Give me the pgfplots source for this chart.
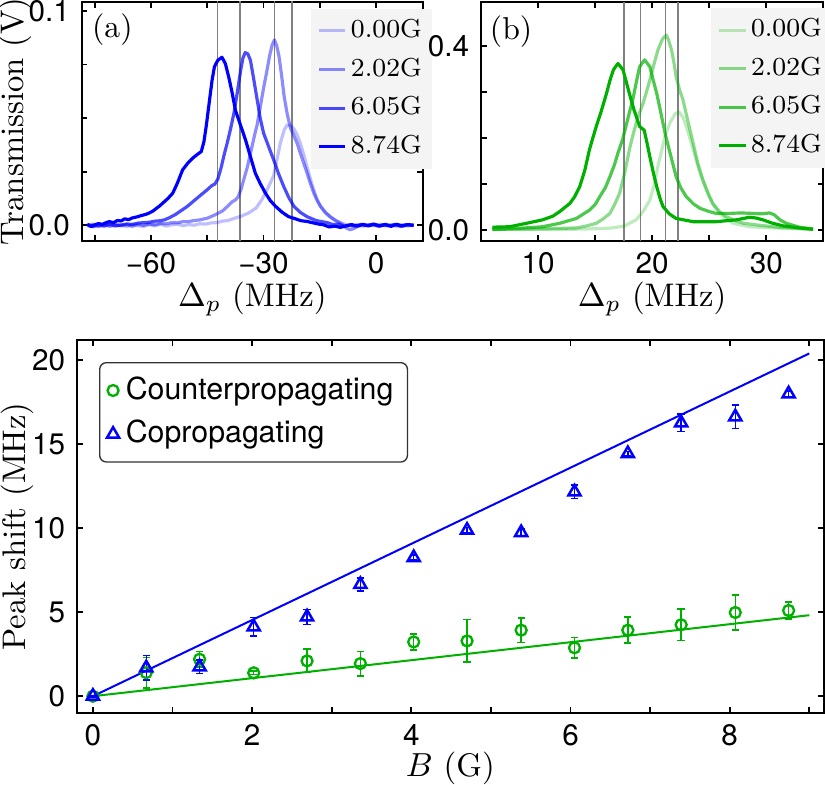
\documentclass[border=0pt]{standalone}
\usepackage{fontspec}
\usepackage{pgfplots}
\pgfplotsset{compat=1.18}
\newfontfamily\ticksf{TeX Gyre Heros}
\definecolor{mygreen}{rgb}{0,0.69,0}
\definecolor{legfill}{gray}{0.955}

\pgfplotsset{
  panel/.style={
    scale only axis,
    axis line style={line width=0.6pt},
    every tick/.style={black, line width=0.5pt},
    major tick length=1.7pt,
    tick align=inside,
    tick label style={font=\ticksf\fontsize{8.9}{10}\selectfont},
    label style={font=\fontsize{9.8}{11}\selectfont},
  },
  spec/.style={line width=0.95pt, line join=round},
  toplegend/.style={
    legend cell align=left,
    legend image code/.code={\draw[##1, line width=0.9pt] (0pt,0pt) -- (8pt,0pt);},
    legend style={anchor=north west, fill=legfill, draw=none,
      font=\fontsize{7.8}{8.5}\selectfont, inner sep=2pt, row sep=2.2pt,
      nodes={inner sep=1.2pt}},
  },
}

\begin{document}
\begin{tikzpicture}
\path[use as bounding box] (0pt,0pt) rectangle (247.5pt,-235.5pt);

% ---------------- (a) co-propagating spectra ----------------
\begin{axis}[panel, toplegend,
  at={(24.5pt,-0.6pt)}, anchor=north west,
  width=102.4pt, height=71.6pt,
  xmin=-78.5, xmax=12.5, ymin=-0.0072, ymax=0.1042,
  xtick={-75,-60,-45,-30,-15,0}, xticklabels={,−60,,−30,,0},
  ytick={0,0.025,0.05,0.075,0.1}, yticklabels={0.0,,,,0.1},
  xlabel={$\Delta_p$ (MHz)}, ylabel={Transmission (V)},
  xlabel style={at={(axis description cs:0.5,0)}, anchor=center, yshift=-17.5pt},
  ylabel style={at={(axis description cs:0,0.5)}, anchor=center, yshift=20pt},
  legend style={at={(0.669,0.975)}},
]
\addplot[gray, line width=0.35pt, forget plot] coordinates {(-42.3,-0.01) (-42.3,0.11)};
\addplot[gray, line width=0.35pt, forget plot] coordinates {(-36.3,-0.01) (-36.3,0.11)};
\addplot[gray, line width=0.35pt, forget plot] coordinates {(-27.1,-0.01) (-27.1,0.11)};
\addplot[gray, line width=0.35pt, forget plot] coordinates {(-22.4,-0.01) (-22.4,0.11)};

\addplot[spec, blue, draw opacity=0.25] coordinates {
(-77,0.0003) (-75.5,-0.0008) (-74,-0.0002) (-72.5,0.0006) (-71,0.0001) (-69.5,-0.0006)
(-68,0.0002) (-66.5,-0.0007) (-65,0.0004) (-63.5,-0.0002) (-62,-0.0006) (-60.5,0.0003)
(-59,-0.0003) (-57.5,0.0005) (-56,-0.0004) (-54.5,0.0002) (-53,0.0005) (-51.5,-0.0002)
(-50,0.0003) (-48.5,0.0000) (-47,0.0007) (-45.5,0.0005) (-44,0.0011) (-42.5,0.0012)
(-41,0.0019) (-39.5,0.0022) (-38,0.0031) (-36,0.0042) (-34,0.0057) (-32,0.0080)
(-30.5,0.0118) (-29,0.0168) (-28,0.0205) (-27.3,0.0232) (-26.5,0.0300) (-25.5,0.0385)
(-24.5,0.0445) (-23.7,0.0468) (-22.8,0.0466) (-21.9,0.0450) (-21,0.0420) (-20.2,0.0383)
(-19.3,0.0330) (-18.4,0.0273) (-17.5,0.0215) (-16.6,0.0165) (-15.7,0.0120) (-14.8,0.0088)
(-13.9,0.0066) (-13,0.0049) (-12,0.0034) (-11,0.0023) (-9.5,0.0013) (-8,0.0003)
(-6.5,-0.0004) (-5,0.0004) (-3.5,-0.0005) (-2,0.0003) (-0.5,-0.0003) (1,0.0005)
(2.5,-0.0004) (4,0.0002) (5.5,-0.0006) (7,0.0003) (8.5,-0.0004) (10,0.0002)};
\addlegendentry{0.00G}

\addplot[spec, blue, draw opacity=0.45] coordinates {
(-77,-0.0004) (-75.5,0.0005) (-74,-0.0006) (-72.5,0.0002) (-71,-0.0005) (-69.5,0.0004)
(-68,-0.0003) (-66.5,0.0003) (-65,-0.0005) (-63.5,0.0004) (-62,0.0000) (-60.5,0.0006)
(-59,0.0002) (-57.5,0.0008) (-56,0.0007) (-54.5,0.0012) (-53,0.0011) (-51.5,0.0017)
(-50,0.0017) (-48.5,0.0022) (-47,0.0025) (-45,0.0033) (-43,0.0048) (-41,0.0066)
(-39.5,0.0090) (-38.5,0.0108) (-37.5,0.0118) (-36.8,0.0132) (-36,0.0168) (-35,0.0230)
(-34.3,0.0273) (-33.3,0.0350) (-32.4,0.0420) (-31.7,0.0470) (-30.8,0.0560) (-30,0.0640)
(-29.2,0.0712) (-28.4,0.0790) (-27.7,0.0842) (-27.1,0.0865) (-26.5,0.0838) (-25.9,0.0790)
(-25.2,0.0700) (-24.5,0.0600) (-23.7,0.0520) (-22.8,0.0452) (-21.9,0.0418) (-21,0.0380)
(-20.2,0.0336) (-19.3,0.0290) (-18.4,0.0243) (-17.5,0.0195) (-16.6,0.0150) (-15.7,0.0115)
(-14.8,0.0088) (-13.5,0.0060) (-12.2,0.0040) (-10.5,0.0019) (-9,0.0004) (-8,-0.0012)
(-7,-0.0021) (-6,-0.0016) (-5,-0.0006) (-3.5,0.0003) (-2,-0.0004) (-0.5,0.0004)
(1,-0.0003) (2.5,0.0005) (4,-0.0002) (5.5,0.0004) (7,-0.0005) (8.5,0.0002) (10,-0.0002)};
\addlegendentry{2.02G}

\addplot[spec, blue, draw opacity=0.7] coordinates {
(-77,0.0004) (-75.5,-0.0005) (-74,0.0002) (-72.5,-0.0004) (-71,0.0005) (-69.5,-0.0002)
(-68,0.0001) (-66.5,0.0006) (-65,0.0004) (-63.5,0.0010) (-62,0.0012) (-60.5,0.0014)
(-59,0.0019) (-57.5,0.0021) (-56.3,0.0026) (-55,0.0036) (-53.5,0.0050) (-52,0.0068)
(-50.4,0.0087) (-48.5,0.0115) (-46.8,0.0140) (-45,0.0166) (-43.8,0.0185) (-43,0.0192)
(-42.2,0.0215) (-41.3,0.0270) (-40.5,0.0330) (-39.7,0.0383) (-38.8,0.0450) (-37.9,0.0523)
(-37,0.0620) (-36.1,0.0724) (-35.5,0.0780) (-34.9,0.0806) (-34.2,0.0800) (-33.5,0.0770)
(-32.6,0.0680) (-31.7,0.0585) (-30.9,0.0500) (-30,0.0430) (-28.6,0.0365) (-27.3,0.0305)
(-26,0.0240) (-24.6,0.0180) (-23.3,0.0130) (-21.9,0.0088) (-20.2,0.0060) (-18.4,0.0040)
(-16,0.0022) (-13,0.0012) (-11.5,0.0003) (-10,0.0005) (-8.5,-0.0005) (-7,0.0002)
(-5.5,-0.0004) (-4,0.0004) (-2.5,-0.0002) (-1,0.0005) (0.5,-0.0004) (2,0.0003)
(3.5,-0.0003) (5,0.0004) (6.5,-0.0005) (8,0.0003) (10,-0.0001)};
\addlegendentry{6.05G}

\addplot[spec, blue] coordinates {
(-77,0.0004) (-76,-0.0006) (-75,0.0002) (-74,0.0008) (-73,0.0004) (-72,0.0012)
(-71.1,0.0017) (-70,0.0012) (-69,0.0022) (-68,0.0020) (-67,0.0030) (-66,0.0026)
(-65,0.0034) (-63.5,0.0040) (-62.5,0.0046) (-61.5,0.0050) (-60.5,0.0057) (-59.5,0.0066)
(-58.5,0.0080) (-57.7,0.0090) (-56.9,0.0103) (-55.5,0.0125) (-54.2,0.0150) (-52.9,0.0200)
(-51.6,0.0258) (-50.2,0.0290) (-48.9,0.0313) (-47.7,0.0330) (-46.6,0.0344) (-45.9,0.0390)
(-45.3,0.0461) (-44.4,0.0585) (-43.7,0.0680) (-43.1,0.0740) (-42.2,0.0770) (-41.1,0.0784)
(-40.2,0.0755) (-39.3,0.0693) (-38.4,0.0620) (-37.5,0.0537) (-36.2,0.0470) (-34.8,0.0398)
(-33.5,0.0320) (-32.2,0.0243) (-30.9,0.0195) (-29.5,0.0150) (-28.2,0.0115) (-26.8,0.0088)
(-25,0.0060) (-23.3,0.0040) (-21.5,0.0030) (-20,0.0021) (-18.5,0.0018) (-17,0.0012)
(-15.5,0.0006) (-14,0.0002) (-12.5,-0.0008) (-11,-0.0004) (-9.5,-0.0010) (-8,-0.0003)
(-6.5,0.0003) (-5,-0.0004) (-3.5,0.0004) (-2,-0.0002) (-0.5,0.0005) (1,-0.0004)
(2.5,0.0003) (4,-0.0005) (5.5,0.0004) (7,-0.0003) (8.5,0.0003) (10,0.0000)};
\addlegendentry{8.74G}

\node[font=\fontsize{9.5}{11}\selectfont] at (axis description cs:0.09,0.883) {(a)};
\end{axis}

% ---------------- (b) counter-propagating spectra ----------------
\begin{axis}[panel, toplegend,
  at={(144.3pt,-0.6pt)}, anchor=north west,
  width=102.7pt, height=71.6pt,
  xmin=5, xmax=35, ymin=-0.0233, ymax=0.4957,
  xtick={10,15,20,25,30}, xticklabels={10,,20,,30},
  ytick={0,0.1,0.2,0.3,0.4}, yticklabels={0.0,,,,0.4},
  xlabel={$\Delta_p$ (MHz)},
  xlabel style={at={(axis description cs:0.5,0)}, anchor=center, yshift=-17.5pt},
  legend style={at={(0.669,0.979)}},
]
\addplot[gray, line width=0.35pt, forget plot] coordinates {(17.53,-0.05) (17.53,0.5)};
\addplot[gray, line width=0.35pt, forget plot] coordinates {(18.99,-0.05) (18.99,0.5)};
\addplot[gray, line width=0.35pt, forget plot] coordinates {(21.16,-0.05) (21.16,0.5)};
\addplot[gray, line width=0.35pt, forget plot] coordinates {(22.26,-0.05) (22.26,0.5)};

\addplot[spec, mygreen, draw opacity=0.25] coordinates {
(6,0.002) (8,0.001) (10,0.0015) (12,0.001) (14,0.002) (15.5,0.003) (16.3,0.004)
(17.5,0.008) (18.6,0.022) (19.2,0.040) (19.8,0.065) (20.2,0.100) (20.5,0.138)
(20.9,0.180) (21.2,0.210) (21.6,0.235) (22,0.252) (22.35,0.257) (22.7,0.245)
(23.0,0.225) (23.3,0.200) (23.6,0.174) (23.9,0.148) (24.2,0.123) (24.6,0.096)
(25.0,0.072) (25.4,0.053) (25.9,0.036) (26.5,0.023) (27.1,0.0145) (28.5,0.007)
(30,0.005) (32,0.003) (34.1,0.0015)};
\addlegendentry{0.00G}

\addplot[spec, mygreen, draw opacity=0.45] coordinates {
(6,0.0015) (9,0.002) (11.5,0.003) (13.4,0.0045) (14.3,0.009) (15.1,0.0145)
(15.7,0.024) (16.3,0.036) (16.7,0.055) (17.15,0.080) (17.6,0.125) (18.0,0.174)
(18.3,0.205) (18.6,0.232) (18.9,0.255) (19.2,0.275) (19.5,0.300) (19.8,0.326)
(20.1,0.355) (20.5,0.391) (20.9,0.415) (21.24,0.424) (21.45,0.412) (21.7,0.391)
(21.9,0.365) (22.1,0.333) (22.4,0.305) (22.7,0.283) (23.1,0.240) (23.6,0.188)
(24.0,0.145) (24.45,0.109) (24.9,0.080) (25.3,0.058) (25.9,0.040) (26.5,0.029)
(27.2,0.021) (28,0.0145) (29.5,0.010) (31,0.006) (32.5,0.004) (34.1,0.0015)};
\addlegendentry{2.02G}

\addplot[spec, mygreen, draw opacity=0.7] coordinates {
(6,0.001) (8,0.003) (10.4,0.007) (11.9,0.0145) (13.36,0.025) (14.5,0.043)
(15.0,0.055) (15.4,0.072) (15.9,0.092) (16.3,0.116) (16.7,0.142) (17.0,0.167)
(17.4,0.196) (17.7,0.225) (18.0,0.255) (18.3,0.283) (18.6,0.320) (18.9,0.355)
(19.34,0.370) (19.8,0.355) (20.1,0.325) (20.4,0.297) (20.7,0.262) (20.95,0.232)
(21.2,0.203) (21.5,0.174) (21.8,0.145) (22.1,0.116) (22.5,0.092) (23.0,0.072)
(23.6,0.057) (24.2,0.047) (25,0.040) (25.6,0.036) (26.8,0.036) (27.8,0.037)
(28.8,0.036) (29.6,0.035) (30.3,0.037) (30.7,0.033) (31.2,0.022) (31.75,0.0145)
(32.9,0.006) (34.1,0.002)};
\addlegendentry{6.05G}

\addplot[spec, mygreen] coordinates {
(6,0.006) (7.5,0.007) (9.0,0.0145) (10.4,0.022) (11.3,0.030) (11.9,0.040)
(12.8,0.058) (13.2,0.072) (13.65,0.094) (14.1,0.130) (14.5,0.174) (14.8,0.200)
(15.1,0.225) (15.5,0.255) (16.0,0.297) (16.3,0.325) (16.6,0.348) (17.0,0.362)
(17.45,0.348) (17.7,0.325) (18.0,0.297) (18.4,0.262) (18.9,0.225) (19.3,0.217)
(19.5,0.195) (19.8,0.159) (20.1,0.125) (20.4,0.094) (20.7,0.068) (20.95,0.051)
(21.5,0.035) (22.1,0.025) (23.6,0.018) (25.6,0.018) (27.4,0.022) (28.5,0.0275)
(29.1,0.026) (29.7,0.022) (30.5,0.015) (31.5,0.0087) (33,0.004) (34.1,0.0015)};
\addlegendentry{8.74G}

\node[font=\fontsize{9.5}{11}\selectfont] at (axis description cs:0.088,0.878) {(b)};
\end{axis}

% ---------------- peak shift versus magnetic field ----------------
\begin{axis}[panel,
  at={(23.1pt,-102pt)}, anchor=north west,
  width=224pt, height=111.9pt,
  xmin=-0.2, xmax=9.18, ymin=-1.0, ymax=21.2,
  xtick={0,1,...,9}, xticklabels={0,,2,,4,,6,,8,},
  ytick={0,5,10,15,20}, yticklabels={0,5,10,15,20},
  xlabel={$B$ (G)}, ylabel={Peak shift (MHz)},
  xlabel style={at={(axis description cs:0.5,0)}, anchor=center, yshift=-16.5pt},
  ylabel style={at={(axis description cs:0,0.5)}, anchor=center, yshift=18pt},
  legend cell align=left,
  legend style={at={(0.0295,0.941)}, anchor=north west, draw=black!80,
    line width=0.4pt, rounded corners=2pt,
    font=\ticksf\fontsize{9.1}{10.5}\selectfont, inner sep=2.2pt, row sep=0.8pt},
]
\addplot[mygreen, line width=0.6pt, forget plot] coordinates {(0,0) (9,4.82)};
\addplot[blue, line width=0.6pt, forget plot] coordinates {(0,0) (9,20.4)};

\addplot[mygreen, only marks, mark=o, mark size=1.65pt, mark options={line width=0.7pt, solid},
  error bars/.cd, y dir=both, y explicit,
  error bar style={line width=0.45pt},
  error mark options={rotate=90, mark size=1.1pt, line width=0.45pt}]
  table[x=B, y=s, y error=e] {
B     s     e
0     0.00  0.05
0.67  1.40  0.90
1.34  2.20  0.45
2.02  1.39  0.10
2.69  2.10  0.70
3.36  1.94  0.73
4.03  3.23  0.47
4.70  3.29  1.27
5.38  3.93  0.73
6.05  2.88  0.60
6.72  3.93  0.77
7.39  4.25  0.95
8.07  4.98  1.04
8.74  5.10  0.52
};
\addlegendentry{Counterpropagating}

\addplot[blue, only marks, mark=triangle, mark size=2.1pt, mark options={line width=0.75pt, solid},
  error bars/.cd, y dir=both, y explicit,
  error bar style={line width=0.45pt},
  error mark options={rotate=90, mark size=1.1pt, line width=0.45pt}]
  table[x=B, y=s, y error=e] {
B     s      e
0     0.00   0.05
0.67  1.69   0.73
1.34  1.75   0.40
2.02  4.13   0.55
2.69  4.72   0.45
3.36  6.65   0.38
4.03  8.25   0.15
4.70  9.88   0.15
5.38  9.74   0.20
6.05  12.16  0.40
6.72  14.44  0.12
7.39  16.27  0.53
8.07  16.63  0.70
8.74  18.00  0.15
};
\addlegendentry{Copropagating}
\end{axis}
\end{tikzpicture}
\end{document}
